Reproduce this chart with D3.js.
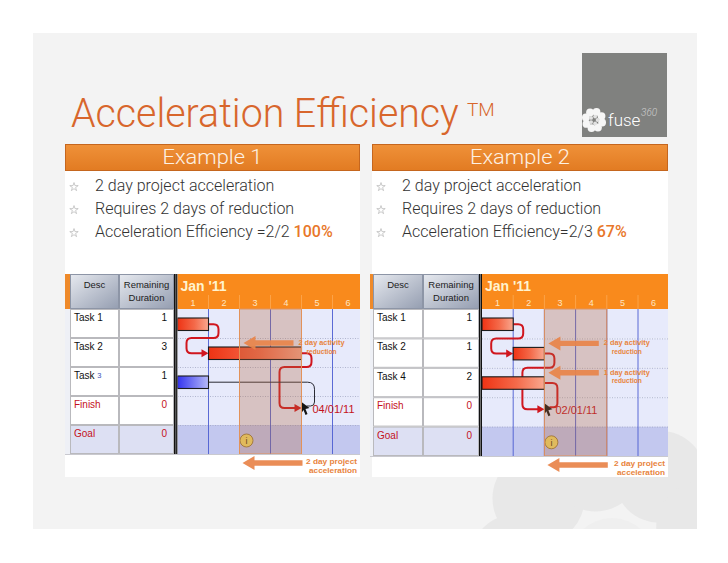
<!DOCTYPE html>
<html><head><meta charset="utf-8">
<script src="https://cdn.jsdelivr.net/npm/d3@7"></script>
<style>html,body{margin:0;padding:0;background:#fff;}svg{display:block}</style>
</head><body>
<svg id="c" width="728" height="563"></svg>
<script>
// ---------------- DATA ----------------
const titleText = "Acceleration Efficiency";
const titleMark = "TM";
const exampleTitles = ["Example 1", "Example 2"];
const bullets1 = ["2 day project acceleration", "Requires 2 days of reduction", "Acceleration Efficiency =2/2 "];
const bulletHighlight1 = "100%";
const bullets2 = ["2 day project acceleration", "Requires 2 days of reduction", "Acceleration Efficiency=2/3 "];
const bulletHighlight2 = "67%";
const monthLabel = "Jan '11";
const dayLabels = ["1", "2", "3", "4", "5", "6"];
const colHeaders = [["Desc"], ["Remaining", "Duration"]];

const tasks1 = ["Task 1", "Task 2", "Task 3", "Finish", "Goal"];
const remaining1 = [1, 3, 1, 0, 0];
const barStart1 = [0, 1, 0];
const barKind1 = ["critical", "critical", "normal"];
const links1 = [
  { from: 0, to: 1, critical: true, route: "loop" },
  { from: 1, to: 3, critical: true, route: "loop" },
  { from: 2, to: 3, critical: false, route: "hook" }
];
const finishDay1 = 4;
const finishLabel1 = "04/01/11";
const reductions1 = [{ row: 1, label: ["2 day activity", "reduction"] }];

const tasks2 = ["Task 1", "Task 2", "Task 4", "Finish", "Goal"];
const remaining2 = [1, 1, 2, 0, 0];
const barStart2 = [0, 1, 0];
const barKind2 = ["critical", "critical", "critical"];
const links2 = [
  { from: 0, to: 1, critical: true, route: "loop" },
  { from: 1, to: 3, critical: true, route: "loop" },
  { from: 2, to: 3, critical: true, route: "hook" }
];
const finishDay2 = 2;
const finishLabel2 = "02/01/11";
const reductions2 = [
  { row: 1, label: ["2 day activity", "reduction"] },
  { row: 2, label: ["1 day activity", "reduction"] }
];

const accelWindow = [2, 4];
const accelLabel = ["2 day project", "acceleration"];
const logoWord = "fuse";
const logoSup = "360";

// ---------------- DRAW ----------------
const svg = d3.select("#c");
const defs = svg.append("defs");
function lg(id, stops, x2, y2) {
  const g = defs.append("linearGradient").attr("id", id)
    .attr("x1", 0).attr("y1", 0).attr("x2", x2).attr("y2", y2);
  stops.forEach(([o, c]) => g.append("stop").attr("offset", o).attr("stop-color", c));
}
lg("gRed", [[0, "#ee3314"], [0.55, "#f46a4a"], [1, "#f9a88f"]], 1, 0);
lg("gBlue", [[0, "#3434ee"], [1, "#b6baf9"]], 1, 0);
lg("gHead", [[0, "#e6e9ef"], [1, "#959eb1"]], 1, 1);
lg("gEx", [[0, "#ef9139"], [1, "#e27b22"]], 0, 1);

const SANS = "Roboto, 'Open Sans', 'Liberation Sans', sans-serif";
const TAB = "'Liberation Sans', Arial, sans-serif";

svg.append("rect").attr("width", 728).attr("height", 563).attr("fill", "#ffffff");
svg.append("rect").attr("x", 33).attr("y", 33).attr("width", 664).attr("height", 496).attr("fill", "#f3f3f3");

// watermark flower
defs.append("clipPath").attr("id", "slideClip").append("rect")
  .attr("x", 33).attr("y", 33).attr("width", 664).attr("height", 496);
const wm = svg.append("g").attr("clip-path", "url(#slideClip)");
const petalAngles = d3.range(-180, 20, 40);
wm.selectAll("circle.p").data(petalAngles).join("circle")
  .attr("cx", a => 612 + 96 * Math.cos(a * Math.PI / 180))
  .attr("cy", a => 560 + 96 * Math.sin(a * Math.PI / 180))
  .attr("r", 46).attr("fill", "#e8e8e8");
wm.append("circle").attr("cx", 612).attr("cy", 560).attr("r", 42).attr("fill", "#efefef");

// Title: condensed by a horizontal scale computed from the rendered width
const titleG = svg.append("g");
const titleT = titleG.append("text").attr("x", 0).attr("y", 0).text(titleText)
  .attr("font-family", SANS).attr("font-weight", 300).attr("font-size", 41).attr("fill", "#d8662c");
const natural = titleT.node().getComputedTextLength() || 388;
titleG.attr("transform", `translate(71,127) scale(${388 / natural},1)`);
svg.append("text").attr("x", 467).attr("y", 116).text(titleMark)
  .attr("font-family", SANS).attr("font-weight", 300).attr("font-size", 19).attr("fill", "#d8662c");

// Logo
const logo = svg.append("g");
logo.append("rect").attr("x", 582).attr("y", 53).attr("width", 85).attr("height", 84).attr("fill", "#80817f");
const fl = logo.append("g").attr("transform", "translate(594,120)");
fl.selectAll("circle.o").data(d3.range(8)).join("circle")
  .attr("cx", i => 8.5 * Math.cos(i * Math.PI / 4 + 0.3)).attr("cy", i => 8.5 * Math.sin(i * Math.PI / 4 + 0.3))
  .attr("r", 3.9).attr("fill", "#f6f6f6");
fl.selectAll("circle.i").data(d3.range(5)).join("circle")
  .attr("cx", i => 3.6 * Math.cos(i * Math.PI * 0.4)).attr("cy", i => 3.6 * Math.sin(i * Math.PI * 0.4))
  .attr("r", 1.9).attr("fill", "#e2e2e2");
logo.append("text").attr("x", 608).attr("y", 126).text(logoWord)
  .attr("font-family", SANS).attr("font-weight", 300).attr("font-size", 17).attr("fill", "#ffffff");
logo.append("text").attr("x", 641).attr("y", 116).text(logoSup)
  .attr("font-family", SANS).attr("font-style", "italic").attr("font-weight", 300).attr("font-size", 10)
  .attr("fill", "#cdcdcd");

// Panels + headers + bullets
const panels = [
  { x: 65, w: 295, title: exampleTitles[0], bullets: bullets1, hl: bulletHighlight1 },
  { x: 372, w: 296, title: exampleTitles[1], bullets: bullets2, hl: bulletHighlight2 }
];
const bulletY = d3.scalePoint().domain([0, 1, 2]).range([191, 237]);
panels.forEach(p => {
  svg.append("rect").attr("x", p.x).attr("y", 170).attr("width", p.w).attr("height", 307).attr("fill", "#ffffff");
  svg.append("rect").attr("x", p.x + 0.5).attr("y", 144.5).attr("width", p.w - 1).attr("height", 26)
    .attr("fill", "url(#gEx)").attr("stroke", "#c5661e").attr("stroke-width", 1);
  svg.append("text").attr("x", p.x + p.w / 2).attr("y", 164).attr("text-anchor", "middle").text(p.title)
    .attr("font-family", SANS).attr("font-weight", 300).attr("font-size", 19.5).attr("fill", "#fdf1e4")
    .attr("textLength", 100).attr("lengthAdjust", "spacingAndGlyphs");
  p.bullets.forEach((b, i) => {
    svg.append("path").attr("d", d3.symbol(d3.symbolStar, 22)())
      .attr("transform", `translate(${p.x + 9},${bulletY(i) - 4})`)
      .attr("fill", "none").attr("stroke", "#b5b5b5").attr("stroke-width", 0.7);
    const t = svg.append("text").attr("x", p.x + 30).attr("y", bulletY(i))
      .attr("font-family", SANS).attr("font-weight", 300).attr("font-size", 16).attr("fill", "#333333");
    t.append("tspan").text(b);
    if (i === 2) t.append("tspan").text(p.hl).attr("fill", "#e8772a").attr("font-weight", 500);
  });
});

// rounded polyline helper
function roundedPath(pts, r) {
  let d = `M${pts[0][0]},${pts[0][1]}`;
  for (let i = 1; i < pts.length - 1; i++) {
    const [px, py] = pts[i - 1], [cx, cy] = pts[i], [nx, ny] = pts[i + 1];
    const d1 = Math.hypot(cx - px, cy - py), d2 = Math.hypot(nx - cx, ny - cy);
    const rr = Math.min(r, d1 / 2, d2 / 2);
    const ax = cx + (px - cx) / d1 * rr, ay = cy + (py - cy) / d1 * rr;
    const bx = cx + (nx - cx) / d2 * rr, by = cy + (ny - cy) / d2 * rr;
    d += `L${ax},${ay}Q${cx},${cy},${bx},${by}`;
  }
  const last = pts[pts.length - 1];
  return d + `L${last[0]},${last[1]}`;
}

function orangeArrow(g, xTail, xTip, yy) {
  const head = 12, hh = 7, sh = 2.7;
  g.append("path")
    .attr("d", `M${xTip},${yy} L${xTip + head},${yy - hh} L${xTip + head},${yy - sh} L${xTail},${yy - sh} L${xTail},${yy + sh} L${xTip + head},${yy + sh} L${xTip + head},${yy + hh} Z`)
    .attr("fill", "#e8844a").attr("opacity", 0.93);
}

function drawGantt(cfg) {
  const g = svg.append("g");
  const n = cfg.tasks.length;
  const x = d3.scaleLinear().domain([0, 6]).range([cfg.tlX, cfg.tlX + 6 * cfg.dayW]);
  const y = d3.scaleBand().domain(d3.range(n)).range([cfg.headBottom, cfg.bottom]);
  const bw = y.bandwidth();
  const barTop = i => y(i) + 9, barH = 12.5;
  const barMid = i => y(i) + 15.2;
  const finishMid = y(3) + 12;

  // left strip
  g.append("rect").attr("x", cfg.strip).attr("y", cfg.top).attr("width", cfg.descX - cfg.strip)
    .attr("height", cfg.headBottom - cfg.top).attr("fill", "#ef8a2a");
  g.append("rect").attr("x", cfg.strip).attr("y", cfg.headBottom).attr("width", cfg.descX - cfg.strip)
    .attr("height", cfg.bottom - cfg.headBottom).attr("fill", "#eef0f6");

  // header cells
  const cols = [[cfg.descX, cfg.remX], [cfg.remX, cfg.sepX]];
  cols.forEach(([a, b], ci) => {
    g.append("rect").attr("x", a + 0.5).attr("y", cfg.top + 0.5).attr("width", b - a - 1)
      .attr("height", cfg.headBottom - cfg.top - 1).attr("fill", "url(#gHead)")
      .attr("stroke", "#8d95a6").attr("stroke-width", 1);
    colHeaders[ci].forEach((h, k) => {
      g.append("text").attr("x", (a + b) / 2).attr("y", colHeaders[ci].length === 1 ? 288 : 288 + k * 13)
        .attr("text-anchor", "middle").text(h)
        .attr("font-family", TAB).attr("font-size", 9.5).attr("fill", "#1c1c1c");
    });
  });
  // body cells
  cfg.tasks.forEach((t, i) => {
    cols.forEach(([a, b]) => {
      g.append("rect").attr("x", a + 0.5).attr("y", y(i) + 0.5).attr("width", b - a - 1).attr("height", bw - 1)
        .attr("fill", i === n - 1 ? "#dde0f3" : "#ffffff").attr("stroke", "#b9b9bd").attr("stroke-width", 1);
    });
    const red = i >= 3;
    const tx = g.append("text").attr("x", cfg.descX + 4).attr("y", y(i) + 12)
      .attr("font-family", TAB).attr("font-size", 10).attr("fill", red ? "#c4121c" : "#111111");
    if (i === cfg.blueDigitRow) {
      const parts = t.split(" ");
      tx.append("tspan").text(parts[0] + " ");
      tx.append("tspan").text(parts[1]).attr("font-size", 7.5).attr("fill", "#3a52b8").attr("dy", -1);
    } else tx.text(t);
    g.append("text").attr("x", cfg.sepX - 7).attr("y", y(i) + 12).attr("text-anchor", "end")
      .text(cfg.remaining[i]).attr("font-family", TAB).attr("font-size", 10)
      .attr("fill", red ? "#c4121c" : "#111111");
  });

  // separator
  g.append("rect").attr("x", cfg.sepX).attr("y", cfg.top).attr("width", cfg.tlX - cfg.sepX)
    .attr("height", cfg.bottom - cfg.top).attr("fill", "#111111");
  g.append("line").attr("x1", cfg.sepX + (cfg.tlX - cfg.sepX) / 2).attr("x2", cfg.sepX + (cfg.tlX - cfg.sepX) / 2)
    .attr("y1", cfg.top).attr("y2", cfg.bottom).attr("stroke", "#9a9a9a").attr("stroke-width", 0.7);

  // timeline (clipped)
  const cid = "tl" + Math.round(cfg.tlX);
  defs.append("clipPath").attr("id", cid).append("rect").attr("x", cfg.tlX).attr("y", cfg.top - 2)
    .attr("width", cfg.right - cfg.tlX).attr("height", cfg.bottom - cfg.top + 4);
  const tl = g.append("g").attr("clip-path", `url(#${cid})`);
  tl.append("rect").attr("x", cfg.tlX).attr("y", cfg.top).attr("width", cfg.right - cfg.tlX)
    .attr("height", cfg.headBottom - cfg.top).attr("fill", "#f98a1c");
  tl.append("text").attr("x", cfg.tlX + 3).attr("y", 291).text(monthLabel)
    .attr("font-family", TAB).attr("font-weight", "bold").attr("font-size", 14).attr("fill", "#fff3cf");
  tl.selectAll("text.day").data(dayLabels).join("text")
    .attr("x", (d, i) => x(i + 0.5)).attr("y", 306).attr("text-anchor", "middle").text(d => d)
    .attr("font-family", TAB).attr("font-size", 9).attr("fill", "#fde6c2");
  tl.selectAll("line.hd").data(d3.range(1, 7)).join("line")
    .attr("x1", d => x(d)).attr("x2", d => x(d)).attr("y1", 295).attr("y2", cfg.headBottom)
    .attr("stroke", "#fca954").attr("stroke-width", 0.8);
  // rows
  cfg.tasks.forEach((t, i) => {
    tl.append("rect").attr("x", cfg.tlX).attr("y", y(i)).attr("width", cfg.right - cfg.tlX).attr("height", bw)
      .attr("fill", i === n - 1 ? "#c3c8ef" : "#e7eafb");
  });
  tl.selectAll("line.rw").data(d3.range(1, n)).join("line")
    .attr("x1", cfg.tlX).attr("x2", cfg.right).attr("y1", d => y(d) + 0.5).attr("y2", d => y(d) + 0.5)
    .attr("stroke", "#a3a8c4").attr("stroke-width", 0.8).attr("stroke-dasharray", "1,1.5");
  tl.selectAll("line.vd").data(d3.range(1, 7)).join("line")
    .attr("x1", d => x(d)).attr("x2", d => x(d)).attr("y1", cfg.headBottom).attr("y2", cfg.bottom)
    .attr("stroke", "#4b5bd0").attr("stroke-width", 0.9);

  // links
  const finishX = x(cfg.finishDay);
  cfg.links.forEach(l => {
    const x0 = x(cfg.starts[l.from] + cfg.remaining[l.from]);
    const y0 = barMid(l.from);
    const toFinish = l.to === 3;
    const xt = toFinish ? finishX : x(cfg.starts[l.to]);
    const yt = toFinish ? finishMid : barMid(l.to);
    let pts;
    if (l.route === "loop") {
      const yTurn = y(l.from) + bw;
      pts = [[x0, y0], [x0 + 10, y0], [x0 + 10, yTurn], [xt - 22, yTurn], [xt - 22, yt], [xt - 5, yt]];
    } else {
      const xr = Math.max(x0, xt) + 13;
      pts = [[x0, y0], [xr, y0], [xr, yt - 2], [xt + 5, yt - 2]];
    }
    tl.append("path").attr("d", roundedPath(pts, l.critical ? 5 : 7)).attr("fill", "none")
      .attr("stroke", l.critical ? "#d0161e" : "#2a2a33").attr("stroke-width", l.critical ? 2 : 1);
    if (l.route === "loop") {
      tl.append("path").attr("d", `M${xt},${yt} L${xt - 7},${yt - 4} L${xt - 7},${yt + 4} Z`).attr("fill", "#d0161e");
    }
  });

  // bars
  cfg.starts.forEach((s, i) => {
    tl.append("rect").attr("x", x(s)).attr("y", barTop(i))
      .attr("width", x(s + cfg.remaining[i]) - x(s)).attr("height", barH)
      .attr("fill", cfg.kinds[i] === "critical" ? "url(#gRed)" : "url(#gBlue)")
      .attr("stroke", "#1b1b1b").attr("stroke-width", 1.1);
  });

  // finish marker + date
  tl.append("path")
    .attr("d", `M${finishX},${finishMid - 6} L${finishX + 8},${finishMid} L${finishX + 4},${finishMid + 1} L${finishX + 6},${finishMid + 6} L${finishX + 4},${finishMid + 7} L${finishX + 2},${finishMid + 2} L${finishX},${finishMid + 5} Z`)
    .attr("fill", "#151515");
  tl.append("text").attr("x", finishX + 11).attr("y", finishMid + 5).text(cfg.finishLabel)
    .attr("font-family", TAB).attr("font-size", 11).attr("fill", "#c4121c");

  // goal icon
  const gx = x(accelWindow[0]) + 7, gy = y(n - 1) + bw / 2 + 1;
  tl.append("circle").attr("cx", gx).attr("cy", gy).attr("r", 6.5).attr("fill", "#f4de6a")
    .attr("stroke", "#8e6e26").attr("stroke-width", 0.8);
  tl.append("text").attr("x", gx).attr("y", gy + 3.5).attr("text-anchor", "middle").text("i")
    .attr("font-family", TAB).attr("font-size", 9).attr("fill", "#4a3a10");

  // acceleration window highlight
  tl.append("rect").attr("x", x(accelWindow[0])).attr("y", cfg.headBottom)
    .attr("width", x(accelWindow[1]) - x(accelWindow[0])).attr("height", cfg.bottom - cfg.headBottom)
    .attr("fill", "#b4683e").attr("fill-opacity", 0.3).attr("stroke", "#e2925a").attr("stroke-width", 1);

  // reduction arrows
  cfg.reductions.forEach(rd => {
    const ay = y(rd.row) + 5;
    orangeArrow(tl, x(accelWindow[1]) - 8, x(accelWindow[0]) + 4, ay);
    rd.label.forEach((s, k) => {
      tl.append("text").attr("x", x(accelWindow[1]) + 20).attr("y", ay + 2 + k * 8.5).attr("text-anchor", "middle")
        .text(s).attr("font-family", TAB).attr("font-weight", "bold").attr("font-size", 7.8)
        .attr("fill", "#e8843c").attr("textLength", k === 0 ? 46 : 30).attr("lengthAdjust", "spacingAndGlyphs");
    });
  });

  // bottom border
  g.append("line").attr("x1", cfg.strip).attr("x2", cfg.right).attr("y1", cfg.bottom + 0.5).attr("y2", cfg.bottom + 0.5)
    .attr("stroke", "#c9c9cf").attr("stroke-width", 1);

  // project acceleration arrow
  const by = cfg.bottom + 9;
  orangeArrow(g, x(accelWindow[1]) + 1, x(accelWindow[0]) + 3, by);
  accelLabel.forEach((s, k) => {
    g.append("text").attr("x", cfg.right - 3).attr("y", by + 1 + k * 8.5).attr("text-anchor", "end")
      .text(s).attr("font-family", TAB).attr("font-weight", "bold").attr("font-size", 7.8)
      .attr("fill", "#e8843c").attr("textLength", k === 0 ? 51 : 48).attr("lengthAdjust", "spacingAndGlyphs");
  });
}

drawGantt({
  strip: 65, descX: 70, remX: 119, sepX: 174, tlX: 177.5, right: 360, dayW: 31,
  top: 274, headBottom: 309, bottom: 454,
  tasks: tasks1, remaining: remaining1, starts: barStart1, kinds: barKind1, links: links1,
  finishDay: finishDay1, finishLabel: finishLabel1, reductions: reductions1, blueDigitRow: 2
});
drawGantt({
  strip: 370, descX: 373, remX: 423, sepX: 479, tlX: 482, right: 668, dayW: 31.2,
  top: 274, headBottom: 309, bottom: 456,
  tasks: tasks2, remaining: remaining2, starts: barStart2, kinds: barKind2, links: links2,
  finishDay: finishDay2, finishLabel: finishLabel2, reductions: reductions2, blueDigitRow: -1
});
</script>
</body></html>
